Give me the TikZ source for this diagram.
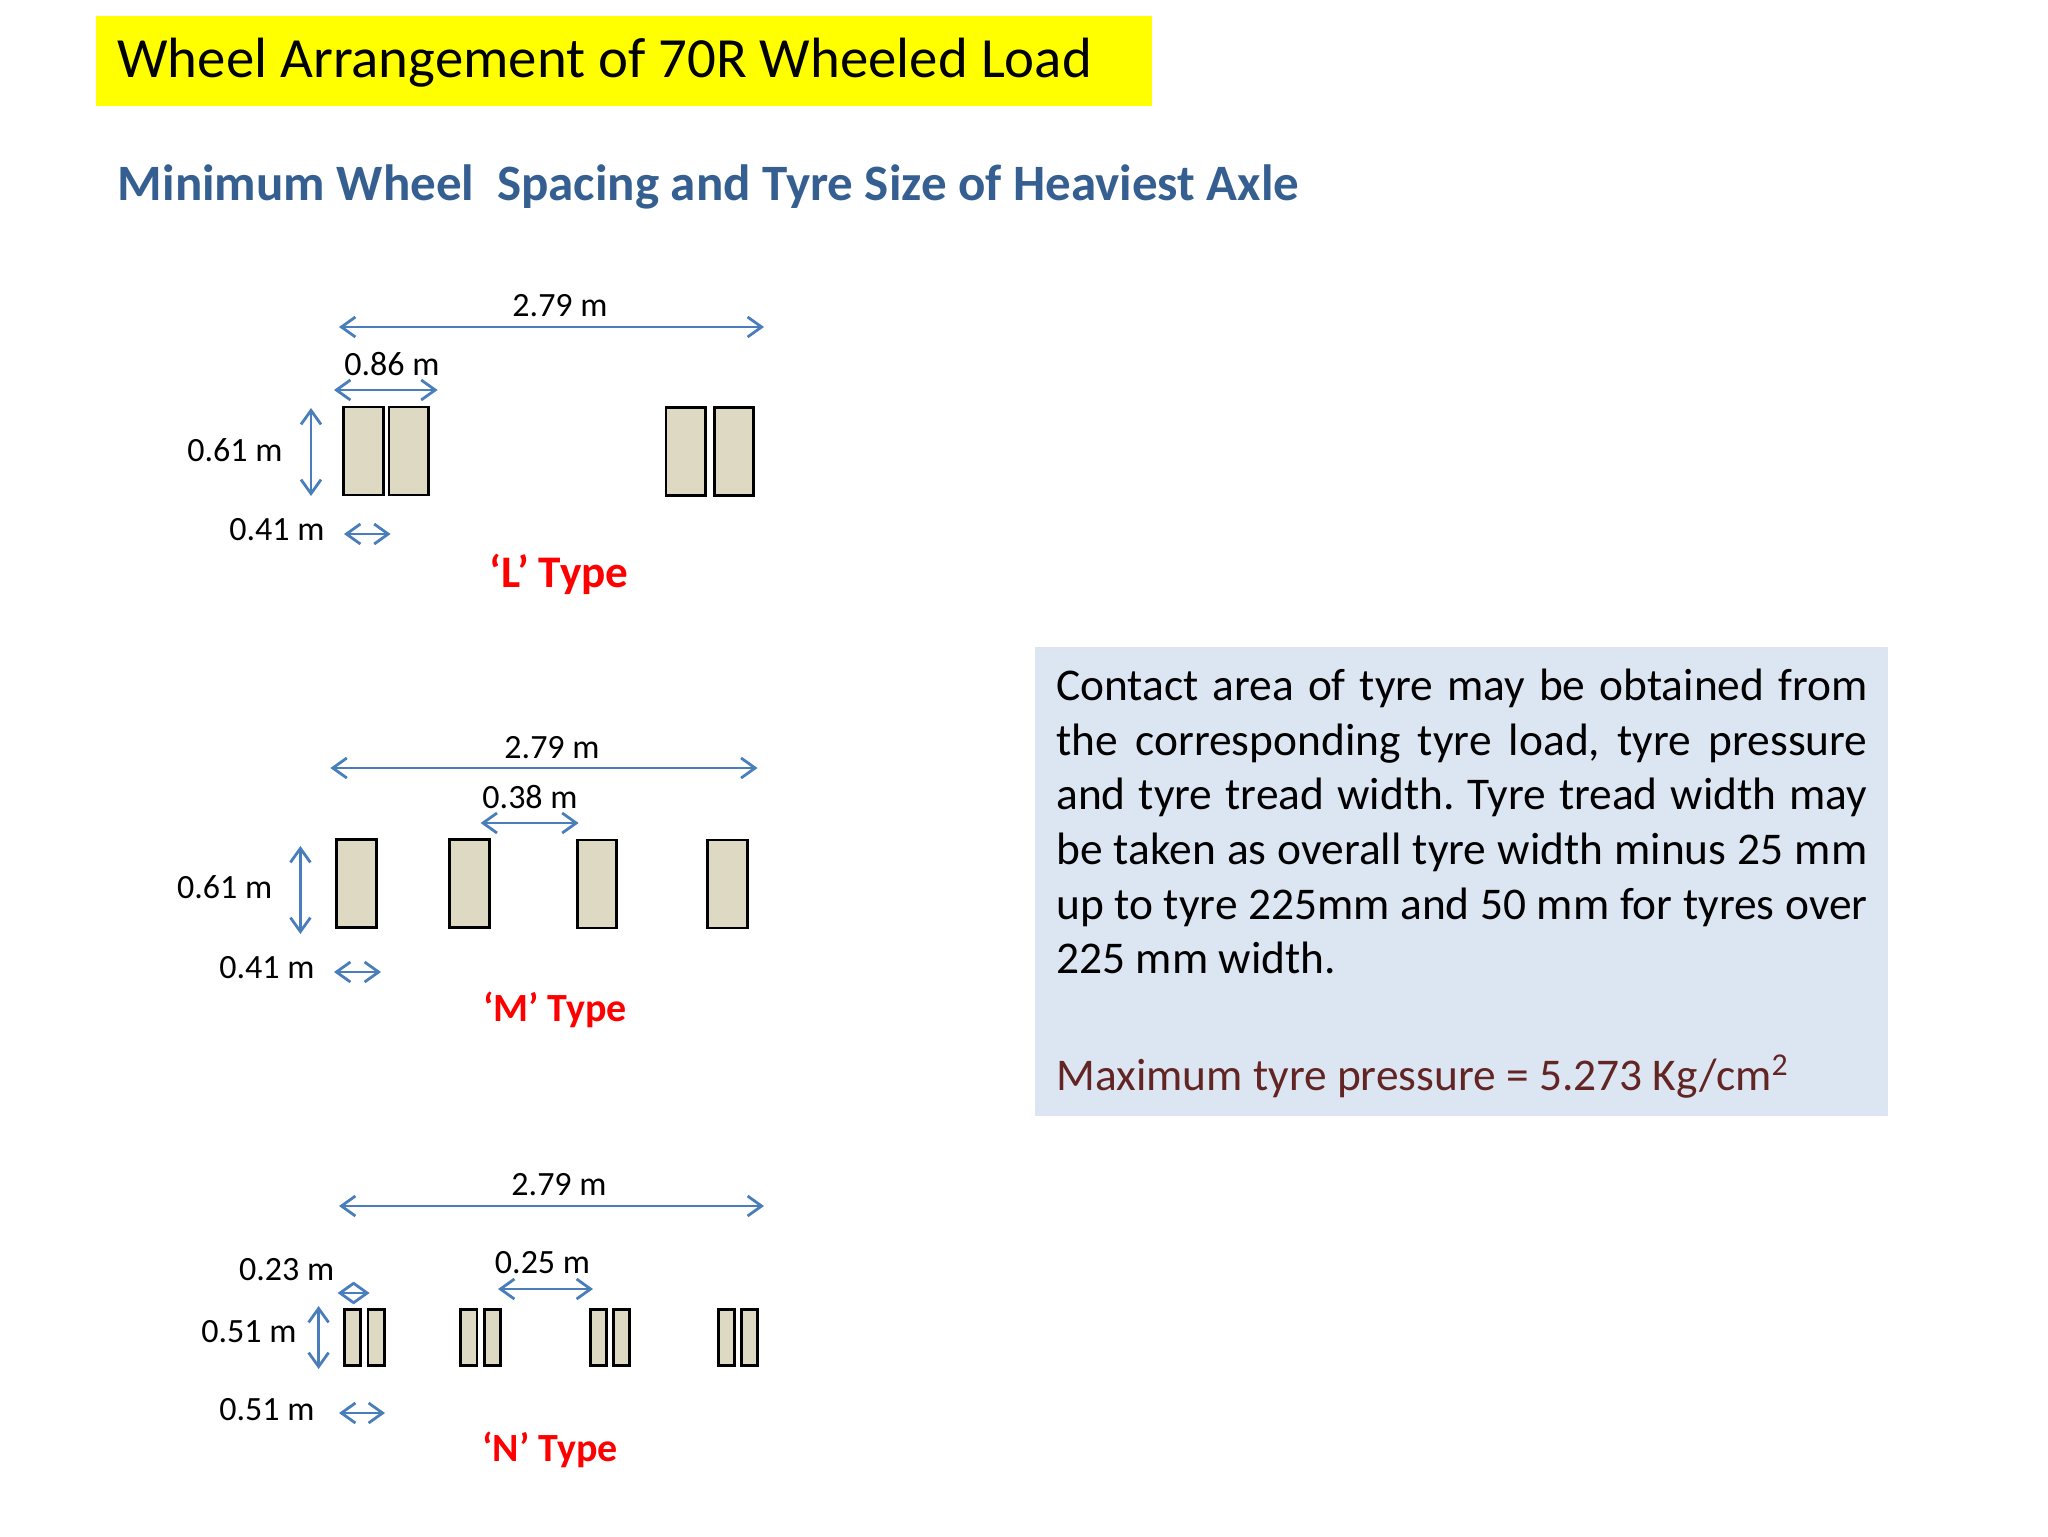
\documentclass[tikz,border=0pt]{standalone}
\usepackage{fontspec}
\setmainfont{Carlito}
\usetikzlibrary{positioning}
\usetikzlibrary{arrows.meta}
\definecolor{dimblue}{HTML}{4A7EBB}
\definecolor{tyrefill}{HTML}{DDD9C3}
\definecolor{headblue}{HTML}{365F91}
\definecolor{headyellow}{HTML}{FFFF00}
\definecolor{notefill}{HTML}{DCE6F2}
\definecolor{notered}{HTML}{632523}

\begin{document}
\begin{tikzpicture} [x=0.5pt, y=-0.5pt,
        tyre/.style = {draw, line width=1.4pt, fill=tyrefill, outer sep=0pt},
        tyreL/.style = {tyre, minimum width=19.8pt, minimum height=44pt},
        tyreN/.style = {tyre, minimum width=8.1pt, minimum height=28pt},
        dim/.style = {draw=dimblue, line width=1.4pt, {Straight Barb[length=7pt,width=10pt]}-{Straight Barb[length=7pt,width=10pt]}},
        val/.style = {font=\fontsize{17}{19}\selectfont, inner sep=0pt},
        kind/.style = {font=\fontsize{20}{22}\selectfont\bfseries, text=red, inner sep=0pt}]
        \useasboundingbox (0,0) rectangle (2048,1536);

        %Headings
        \node[fill=headyellow, anchor=north west, inner xsep=10.5pt, inner ysep=0pt, text width=507pt, align=left, text height=22pt, text depth=5.5pt, minimum height=45pt, font=\fontsize{28.4}{30}\selectfont] (title) at (96,15.7) {\spaceskip=6.5pt Wheel Arrangement of 70R Wheeled Load};
        \node[anchor=west, inner sep=0pt, text=headblue, font=\fontsize{25.5}{28}\selectfont\bfseries] (sub) at (117.5,187) {Minimum Wheel\ \ Spacing and Tyre Size of Heaviest Axle};

        %L type
        \node[tyreL] (l1) at (363.5,451) {};
        \node[tyreL] (l2) [right = 2.8pt of l1] {};
        \node[tyreL] (l3) at (685.7,451.5) {};
        \node[tyreL] (l4) [right = 4.3pt of l3] {};

        \coordinate (la1) at (339,327);
        \coordinate (la2) at (764,327);
        \coordinate (lb1) at (334,390);
        \coordinate (lb2) at (437.6,390);
        \coordinate (lc1) at (311,408);
        \coordinate (lc2) at (311,496);
        \coordinate (ld1) at (344,534);
        \coordinate (ld2) at (390.6,534);

        \node[val] (l279) at (560,305.5) {2.79 m};
        \node[val] (l086) at (392,364) {0.86 m};
        \node[val] (l061) at (235,450) {0.61 m};
        \node[val] (l041) at (277,530) {0.41 m};
        \node[kind, font=\fontsize{22.6}{24}\selectfont\bfseries] (ltype) at (559,574.5) {‘L’ Type};

        \draw[dim] (la1) -- (la2);
        \draw[dim] (lb1) -- (lb2);
        \draw[dim] (lc1) -- (lc2);
        \draw[dim] (ld1) -- (ld2);

        %M type
        \node[tyreL] (m1) at (356.5,883.5) {};
        \node[tyreL] (m2) at (469.5,883.5) {};
        \node[tyreL] (m3) at (597,884) {};
        \node[tyreL] (m4) at (727.5,884) {};

        \coordinate (ma1) at (330.4,768);
        \coordinate (ma2) at (757.5,768);
        \coordinate (mb1) at (480.6,823);
        \coordinate (mb2) at (578.6,823);
        \coordinate (mc1) at (300.4,846);
        \coordinate (mc2) at (300.4,934);
        \coordinate (md1) at (334,972);
        \coordinate (md2) at (381,972);

        \node[val] (m279) at (552,747.5) {2.79 m};
        \node[val] (m038) at (530,797) {0.38 m};
        \node[val] (m061) at (224.6,887) {0.61 m};
        \node[val] (m041) at (267,968) {0.41 m};
        \node[kind] (mtype) at (555,1010) {‘M’ Type};

        \draw[dim] (ma1) -- (ma2);
        \draw[dim] (mb1) -- (mb2);
        \draw[dim] (mc1) -- (mc2);
        \draw[dim] (md1) -- (md2);

        %N type
        \node[tyreN] (n1) at (352.6,1337.5) {};
        \node[tyreN] (n2) [right = 3.65pt of n1] {};
        \node[tyreN] (n3) at (468.9,1337.5) {};
        \node[tyreN] (n4) [right = 3.65pt of n3] {};
        \node[tyreN] (n5) at (598.2,1337.5) {};
        \node[tyreN] (n6) [right = 3.65pt of n5] {};
        \node[tyreN] (n7) at (726.2,1337.5) {};
        \node[tyreN] (n8) [right = 3.65pt of n7] {};

        \coordinate (na1) at (339,1206);
        \coordinate (na2) at (764,1206);
        \coordinate (nb1) at (337.6,1293);
        \coordinate (nb2) at (369.6,1293);
        \coordinate (nc1) at (498,1289);
        \coordinate (nc2) at (593,1289);
        \coordinate (nd1) at (318.6,1306);
        \coordinate (nd2) at (318.6,1369);
        \coordinate (ne1) at (339,1413);
        \coordinate (ne2) at (385,1413);

        \node[val] (n279) at (559,1185) {2.79 m};
        \node[val] (n023) at (286.6,1270) {0.23 m};
        \node[val] (n025) at (542.5,1263) {0.25 m};
        \node[val] (n051a) at (249,1332) {0.51 m};
        \node[val] (n051b) at (267,1409.5) {0.51 m};
        \node[kind] (ntype) at (550,1450) {‘N’ Type};

        \draw[dim] (na1) -- (na2);
        \draw[dim] (nb1) -- (nb2);
        \draw[dim] (nc1) -- (nc2);
        \draw[dim] (nd1) -- (nd2);
        \draw[dim] (ne1) -- (ne2);

        %Note
        \node[fill=notefill, anchor=north west, inner xsep=10.5pt, inner ysep=7pt, text width=405.5pt, minimum height=234.5pt, align=justify, font=\fontsize{22.7}{27.3}\selectfont\frenchspacing] (note) at (1035,646.5) {\rule{0pt}{18pt}Contact area of tyre may be obtained from\linebreak the corresponding tyre load, tyre pressure\linebreak and tyre tread width. Tyre tread width may\linebreak be taken as overall tyre width minus 25 mm\linebreak up to tyre 225mm and 50 mm for tyres over\linebreak 225 mm width.\\[31pt]\textcolor{notered}{Maximum tyre pressure = 5.273 Kg/cm\textsuperscript{2}}};

    \end{tikzpicture}
\end{document}
